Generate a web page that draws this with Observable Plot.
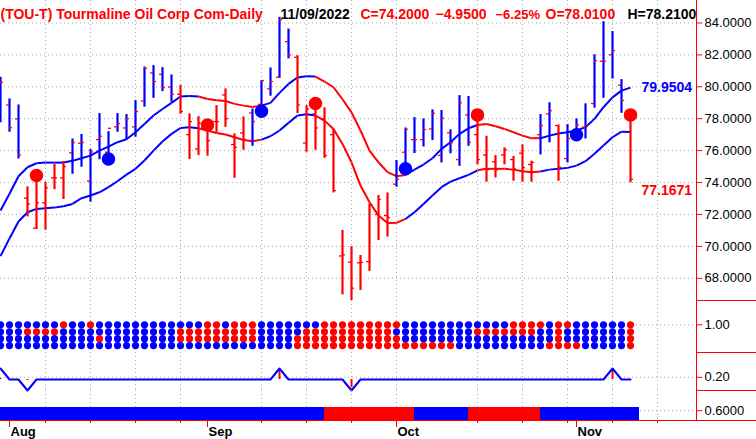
<!DOCTYPE html>
<html><head><meta charset="utf-8">
<script src="https://cdn.jsdelivr.net/npm/d3@7"></script>
<script src="https://cdn.jsdelivr.net/npm/@observablehq/plot@0.6"></script>
<style>
body{margin:0;background:#fff;}
#chart{width:756px;height:439px;overflow:hidden;background:#fff;}
#chart svg{display:block;}
</style></head><body><div id="chart"></div>
<script>
const seq = s => s.replace(/\s/g, "").split("");
// ---------- DATA (trading days Jul 29 2022 .. Nov 09 2022, index 0..70) ----------
const opens  = [79.0,78.86,77.99,73.02,71.14,72.73,74.29,74.29,75.86,76.46,74.10,76.69,75.9,77.49,77.42,77.49,79.11,80.87,80.78,79.99,
                79.53,77.0,76.11,77.3,77.82,79.49,76.38,77.11,78.36,78.9,79.87,80.6,82.83,81.85,76.48,78.3,77.99,77.0,69.4,69.01,
                68.97,69.05,72.0,71.93,73.9,75.90,76.69,76.69,77.36,75.7,77.11,75.44,78.24,77.0,75.73,75.3,75.73,75.44,75.84,75.13,
                77.0,78.3,77.57,75.5,77.3,77.47,78.95,81.6,82.0,80.1,78.01];
const highs  = [80.6,79.24,78.86,73.73,74.3,74.02,75.15,75.32,76.73,77.01,76.07,78.32,77.19,78.32,78.26,79.14,81.24,81.33,81.20,80.74,
                80.08,78.30,78.13,77.9,78.82,79.87,77.05,78.11,78.61,80.39,81.18,84.35,83.62,81.95,78.82,79.0,78.68,77.36,71.0,69.99,
                69.43,72.66,73.19,73.35,75.38,77.42,78.07,77.99,78.55,78.51,77.30,79.45,79.39,78.4,76.90,75.69,76.17,75.63,76.36,75.34,
                78.26,79.0,77.61,77.63,77.99,78.93,82.0,84.08,83.46,80.45,78.21];
const lows   = [77.74,77.15,75.48,71.85,71.06,71.01,73.56,72.94,74.52,74.96,72.77,75.43,75.6,77.15,76.67,76.84,78.72,79.28,79.70,79.03,
                78.28,75.44,75.69,75.65,77.11,77.46,74.27,76.02,76.27,78.3,79.41,80.53,81.75,78.32,75.90,76.02,75.52,73.35,66.96,66.61,
                67.24,68.43,70.37,70.58,73.71,74.65,75.82,76.23,76.63,75.23,75.80,75.02,76.27,75.11,74.02,74.29,75.11,74.08,74.02,74.02,
                75.73,76.49,74.08,75.23,76.8,76.73,78.66,79.28,80.49,78.34,73.98];
const closes = [80.28,77.44,75.73,72.66,72.73,73.67,74.29,75.00,76.51,76.51,75.92,76.9,77.40,77.70,78.01,78.45,81.16,80.33,79.95,79.53,
                78.45,77.82,77.72,76.63,77.82,78.0,76.2,76.7,77.82,80.39,80.33,84.2,82.0,78.86,78.61,77.42,75.69,73.50,69.47,67.38,
                69.0,72.6,72.94,71.81,74.2,77.34,76.69,77.32,78.34,78.03,76.5,79.0,76.52,75.44,74.81,74.79,76.05,74.86,74.94,75.27,
                77.57,78.5,74.96,76.76,77.61,77.57,81.64,81.6,82.27,79.15,74.20];
const barTrend = seq("BBBRRRRRBB BBBBBBBBBB RRRRRRRRBB BBBRRRRRRR RRRRBBBBBB BBBRRRRRRR BBRBBBBBBB R");

const upperBand = [72.25,73.3,74.40,74.96,75.21,75.25,75.25,75.25,75.36,75.52,75.69,76.0,76.25,76.53,76.71,77.15,77.67,78.20,78.61,78.99,
                   79.39,79.43,79.39,79.24,79.16,79.11,78.93,78.82,78.74,78.82,78.99,79.62,80.18,80.58,80.66,80.64,80.33,79.97,79.22,78.40,
                   77.26,76.0,75.27,74.65,74.40,74.48,74.81,75.13,75.52,76.11,76.53,77.05,77.40,77.61,77.67,77.53,77.36,77.15,76.94,76.78,
                   76.78,76.94,77.07,77.15,77.26,77.47,77.99,78.72,79.34,79.76,79.9504];
const lowerBand = [69.39,70.5,71.56,72.14,72.35,72.39,72.43,72.52,72.66,73.02,73.19,73.39,73.71,74.08,74.50,74.86,75.38,76.0,76.57,77.05,
                   77.42,77.47,77.40,77.26,77.11,77.01,76.84,76.67,76.59,76.69,76.90,77.26,77.74,78.20,78.28,78.20,77.88,77.36,76.42,75.27,
                   73.81,72.77,71.93,71.47,71.47,71.72,72.14,72.66,73.19,73.71,74.06,74.27,74.48,74.77,74.86,74.86,74.86,74.81,74.71,74.65,
                   74.69,74.81,74.86,74.92,75.06,75.34,75.80,76.32,76.84,77.19,77.1671];
const bandTrend = seq("BBBBBBBBBB BBBBBBBBBB BBRRRRRRRB BBBBBRRRRR RRRRRBBBBB BBBRRRRRRR BBBBBBBBBB B");

const signalIdx   = [4, 12, 23, 29, 35, 45, 53, 64, 70];
const signalPrice = [74.44, 75.48, 77.61, 78.47, 78.95, 74.86, 78.24, 76.99, 78.24];
const signalTrend = ["R","B","R","B","R","B","R","B","R"];

const dotRowLevels = [1.00, 0.75, 0.50, 0.25];
const dotRow1 = seq("BBBBBBBRBB RBBBBBBBBB BBBRRBRRRB BBBBBBRRRR RRRRRBBBBB BBBBBBBRRR RBRRBBBBBB R");
const dotRow2 = seq("BBBRRRRBBB BBBBBBBBBB RRRRRRRRRB BBBBRRRRRR RRRRBBBBBB BBBRRRRRRR BBRBBBBBBB R");
const dotRow3 = seq("BBBBBBBBBB BRBBBBBBBB RRRRRRRRRB BBBRRRRRRR RRRRRBBBBB BBBBBBBBBB BBRBBBBBBB R");
const dotRow4 = seq("BBBBBBBBBB BBBBBBBBBB BBBBBBBBBB BBBRRRRRRR RRRRRRRRRR RBBBBBBBBB BRRRRBBBBB R");

const oscValue = [1,0,0,-1,0,0,0,0,0,0, 0,0,0,0,0,0,0,0,0,0, 0,0,0,0,0,0,0,0,0,0, 0,1,0,0,0,0,0,0,0,-1,
                  0,0,0,0,0,0,0,0,0,0, 0,0,0,0,0,0,0,0,0,0, 0,0,0,0,0,0,0,0,1,0, 0];
const oscHist  = [0.1,0,0,-0.1,0,0,0,0,0,0, 0,0,0,0,0,0,0,0,0,0, 0,0,0,0,0,0,0,0,0,0, 0,0.75,0,0,0,0,0,0,0,-0.75,
                  0,0,0,0,0,0,0,0,0,0, 0,0,0,0,0,0,0,0,0,0, 0,0,0,0,0,0,0,0,0.8,0, 0];

const stripTrend = seq("BBBBBBBBBB BBBBBBBBBB BBBBBBBBBB BBBBBBRRRR RRRRRRBBBB BBRRRRRRRR BBBBBBBBBB B");
const stripLevel = 0.8;

const priceTicks = [68, 70, 72, 74, 76, 78, 80, 82, 84];
const dotTicks = [1.00];
const oscTicks = [0.20];
const stripTicks = [0.60];
const weekIdx = [5, 10, 15, 20, 29, 34, 39, 44, 53, 58, 63, 68, 73];
const monthIdx = [1, 23, 44, 64];
const monthLabels = ["Aug", "Sep", "Oct", "Nov"];
const symbolName = "(TOU-T) Tourmaline Oil Corp Com-Daily";
const lastDate = "11/09/2022";

// ---------- LAYOUT / STYLE ----------
const RED = "#ff0000", BLUE = "#0000ff", GRID = "#a8a8a8";
const COL = {B: BLUE, R: RED};
const xMax = 696 / 9, xEnd = 756 / 9;
const FONT = "Arial, 'Liberation Sans', sans-serif";
const base = {
  width: 756, marginLeft: 0, marginRight: 60, marginTop: 0, marginBottom: 0,
  x: {domain: [0, xMax], axis: null},
  color: {type: "identity"},
  style: {fontFamily: FONT, fontSize: "13px", background: "white", overflow: "visible"}
};
const dotted = {stroke: GRID, strokeDasharray: "1,3"};
function rightAxis(ticks, fmt, top) {
  return [
    Plot.ruleX([xMax], {stroke: RED}),
    Plot.ruleY([top], {x1: xMax, x2: xEnd, stroke: RED}),
    Plot.ruleY(ticks, {x1: xMax, x2: xMax + 0.7, stroke: RED}),
    Plot.text(ticks, {y: d => d, text: fmt, frameAnchor: "right", dx: 8, textAnchor: "start", fill: "black", fontSize: 13})
  ];
}

const n = closes.length;
const bars = closes.map((c, i) => ({i, o: opens[i], h: highs[i], l: lows[i], c, col: COL[barTrend[i]]}));
const segs = (arr) => arr.slice(0, -1).map((v, i) => ({x1: i, y1: v, x2: i + 1, y2: arr[i + 1], col: COL[bandTrend[i]]}));
const signals = signalIdx.map((i, k) => ({i, p: signalPrice[k], col: COL[signalTrend[k]]}));
const fmt4 = d3.format(".4f");

const prevClose = closes[n - 2], lastClose = closes[n - 1];
const chg = lastClose - prevClose;
const titleParts = [
  {t: symbolName, c: RED, s: 14},
  {t: lastDate, c: "black", s: 14},
  {t: "C=" + fmt4(lastClose), c: RED, s: 14},
  {t: fmt4(chg), c: RED, s: 14},
  {t: d3.format(".2f")(chg / prevClose * 100) + "%", c: RED, s: 13},
  {t: "O=" + fmt4(opens[n - 1]), c: RED, s: 14},
  {t: "H=" + fmt4(highs[n - 1]), c: "black", s: 14}
];
const titleX = [0, 280, 360, 435, 495, 545, 627];

// ---------- PRICE PANEL ----------
const yTop = 85.407, yBot = 66.61;
const price = Plot.plot({
  ...base, height: 300,
  y: {domain: [yBot, yTop], axis: null},
  marks: [
    Plot.ruleY(priceTicks, dotted),
    Plot.ruleX(weekIdx, dotted),
    Plot.link(segs(upperBand), {x1: "x1", y1: "y1", x2: "x2", y2: "y2", stroke: "col", strokeWidth: 2}),
    Plot.link(segs(lowerBand), {x1: "x1", y1: "y1", x2: "x2", y2: "y2", stroke: "col", strokeWidth: 2}),
    Plot.ruleX(bars, {x: "i", y1: "l", y2: "h", stroke: "col", strokeWidth: 2.2}),
    Plot.ruleY(bars, {y: "o", x1: d => d.i - 0.33, x2: "i", stroke: RED, strokeWidth: 1.3}),
    Plot.ruleY(bars, {y: "c", x1: "i", x2: d => d.i + 0.33, stroke: RED, strokeWidth: 1.3}),
    Plot.dot(signals, {x: "i", y: "p", r: 6, fill: "col", stroke: "col"}),
    Plot.text([{i: n - 1, v: upperBand[n - 1]}], {x: "i", y: "v", text: d => fmt4(d.v), dx: 11, textAnchor: "start", fill: BLUE, fontWeight: "bold", fontSize: 14}),
    Plot.text([{i: n - 1, v: lowerBand[n - 1]}], {x: "i", y: "v", text: d => fmt4(d.v), dx: 11, dy: 59, textAnchor: "start", fill: RED, fontWeight: "bold", fontSize: 14}),
    Plot.ruleX([xMax], {stroke: RED}),
    Plot.ruleY(priceTicks, {x1: xMax, x2: xMax + 0.7, stroke: RED}),
    Plot.text(priceTicks, {y: d => d, text: d => fmt4(d), frameAnchor: "right", dx: 8, textAnchor: "start", fill: "black", fontSize: 13}),
    ...titleParts.map((p, k) => Plot.text([p], {text: "t", fill: "c", frameAnchor: "top-left", dx: titleX[k], dy: 9, textAnchor: "start", fontWeight: "bold", fontSize: p.s}))
  ]
});

// ---------- SIGNAL DOTS PANEL ----------
const dotRows = [dotRow1, dotRow2, dotRow3, dotRow4];
const cells = dotRows.flatMap((row, r) => row.map((s, i) => ({i, v: dotRowLevels[r], col: COL[s]})));
const dotTop = 1.88;
const dotsPanel = Plot.plot({
  ...base, height: 52,
  y: {domain: [0, dotTop], axis: null},
  marks: [
    Plot.ruleY(dotTicks, dotted),
    Plot.ruleX(weekIdx, dotted),
    Plot.dot(cells, {x: "i", y: "v", r: 3.6, fill: "col", stroke: null}),
    ...rightAxis(dotTicks, d => d3.format(".2f")(d), dotTop)
  ]
});

// ---------- OSCILLATOR PANEL ----------
const oscTop = 2.4545;
const oscData = oscValue.map((v, i) => ({i, v}));
const histData = oscHist.map((v, i) => ({i, v})).filter(d => d.v !== 0);
const oscPanel = Plot.plot({
  ...base, height: 38,
  y: {domain: [-1, oscTop], axis: null},
  marks: [
    Plot.ruleY(oscTicks, dotted),
    Plot.ruleX(weekIdx, dotted),
    Plot.ruleX(histData, {x: "i", y1: 0, y2: "v", stroke: RED, strokeWidth: 2}),
    Plot.line(oscData, {x: "i", y: "v", stroke: BLUE, strokeWidth: 2}),
    ...rightAxis(oscTicks, d => d3.format(".2f")(d), oscTop)
  ]
});

// ---------- TREND STRIP PANEL ----------
const stripTop = 1.846;
const runs = [];
stripTrend.forEach((s, i) => {
  const last = runs[runs.length - 1];
  if (last && last.s === s) last.end = i + 1; else runs.push({s, start: i, end: i + 1});
});
const stripPanel = Plot.plot({
  ...base, height: 30,
  y: {domain: [0, stripTop], axis: null},
  marks: [
    Plot.ruleY(stripTicks, dotted),
    Plot.ruleX(weekIdx, dotted),
    Plot.rect(runs, {x1: "start", x2: "end", y1: 0, y2: stripLevel, fill: d => COL[d.s]}),
    ...rightAxis(stripTicks, d => d3.format(".4f")(d), stripTop)
  ]
});

// ---------- BOTTOM DATE AXIS ----------
const axisPanel = Plot.plot({
  ...base, height: 19,
  y: {domain: [0, 19], range: [0, 19], axis: null},
  marks: [
    Plot.ruleY([0], {x1: 0, x2: xEnd, stroke: RED}),
    Plot.ruleX(weekIdx, {y1: 0, y2: 3, stroke: RED}),
    Plot.ruleX(monthIdx, {y1: 0, y2: 7, stroke: RED}),
    Plot.text(monthIdx, {x: d => d, y: 11, text: (d, k) => monthLabels[k], dx: 1, textAnchor: "start", fill: "black", fontWeight: "bold", fontSize: 13})
  ]
});

const root = document.getElementById("chart");
[price, dotsPanel, oscPanel, stripPanel, axisPanel].forEach(el => root.appendChild(el));
</script></body></html>
